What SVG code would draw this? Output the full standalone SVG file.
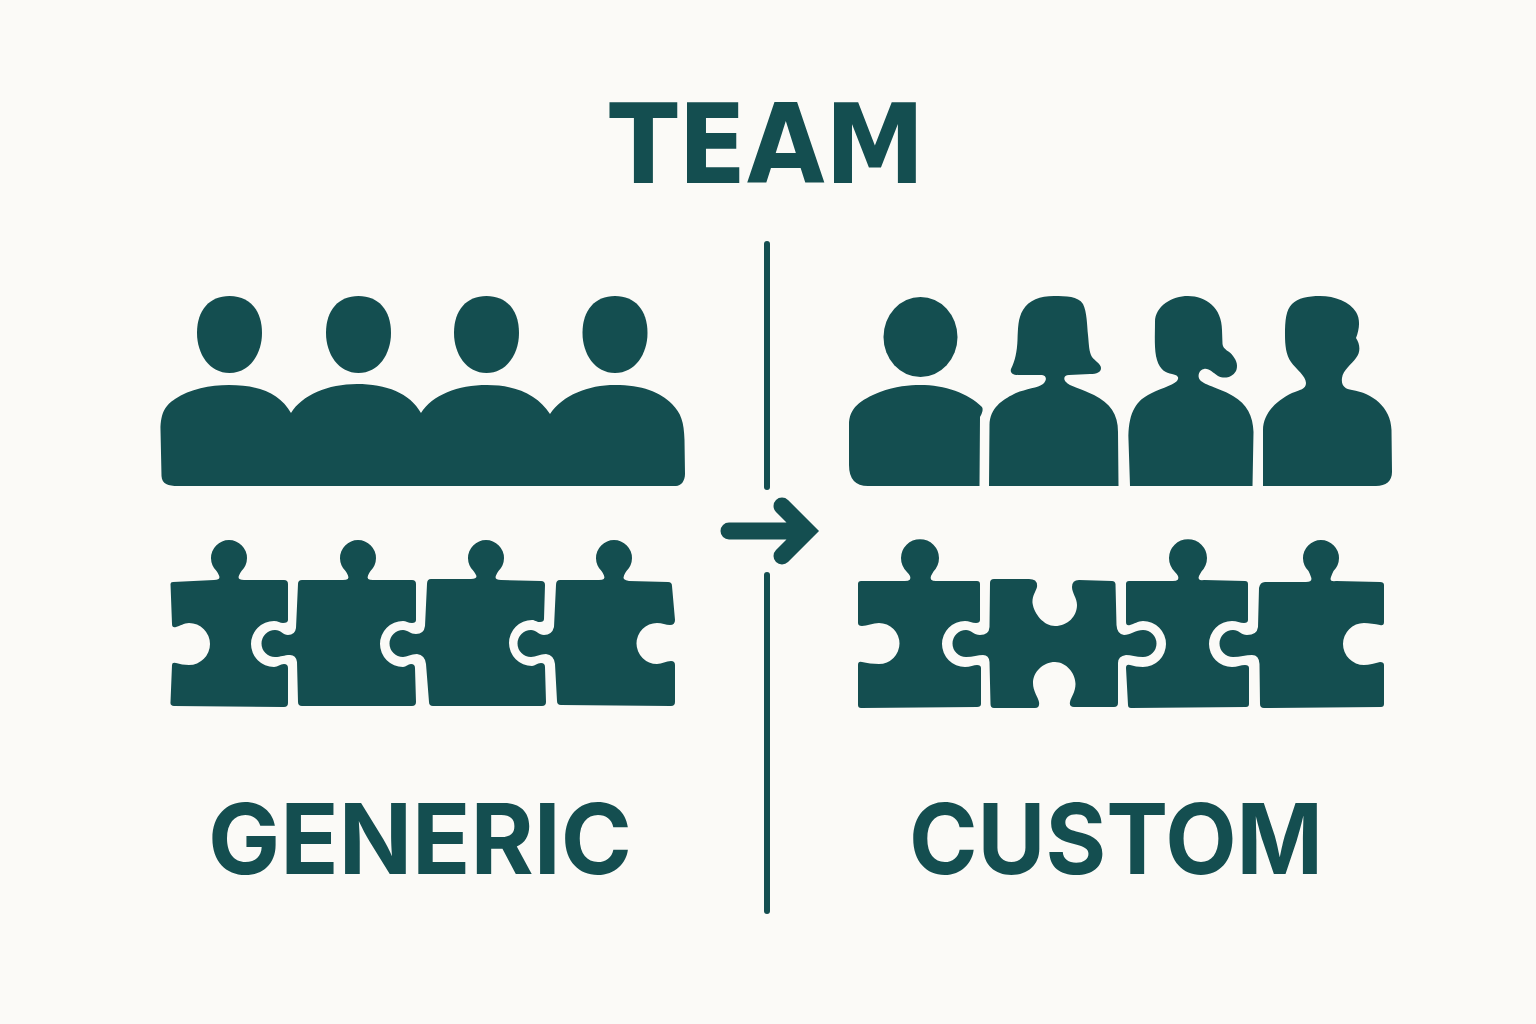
<svg xmlns="http://www.w3.org/2000/svg" width="1536" height="1024" viewBox="0 0 1536 1024">
<style>
.f{fill:#144e50}
.t{fill:#144e50;font-family:"Inter","Liberation Sans",sans-serif;font-weight:700;font-size:98px}
.h{fill:#144e50;font-family:"DejaVu Sans",sans-serif;font-weight:700;font-size:110px}
.c{fill:none;stroke:#144e50;stroke-width:6;stroke-linecap:round}
</style>
<defs>
<path id="gh" d="M0 -39C20 -39 32.500 -25 32.500 -2C32.500 19 20 38 0 38C-20 38 -32.500 19 -32.500 -2C-32.500 -25 -20 -39 0 -39Z"/>
</defs>
<rect width="1536" height="1024" fill="#fbfaf7"/>
<g id="connectors">
<path class="c" d="M767 244V487"/>
<path class="c" d="M767 575V911"/>
<path d="M729 531H800M782 506L807 531L782 556" fill="none" stroke="#144e50" stroke-width="17" stroke-linecap="round" stroke-linejoin="miter"/>
</g>
<g id="title-team"><text class="h" x="767" y="183" text-anchor="middle" textLength="316" lengthAdjust="spacingAndGlyphs">TEAM</text></g>
<g id="generic-people" class="f">
<use href="#gh" x="229.500" y="335"/>
<use href="#gh" x="358.500" y="335"/>
<use href="#gh" x="486.500" y="335"/>
<use href="#gh" x="615" y="335"/>
<path d="M160.500 430C160.500 412 166 405 175 399C190 389 210 385 229 385C258 385 280 393 291 413C302 395 328 384 357 384C386 384 410 393 421 413C432 395 458 385 487 385C516 385 538 395 550 414C563 395 588 385 615 385C642 385 660 392 672 404C681 413 684 422 684.500 440L685 474C685 481 681 486 676 486L178 486C168 486 162 484 161.500 476Z"/>
</g>
<g id="custom-person-1" class="f">
<ellipse cx="920.500" cy="337" rx="37" ry="40"/>
<path d="M849 425C849 408 860 400 880 392C895 386 910 385 920 385C945 385 968 393 982 407Q984 410 980 417L979.500 486L868 486Q849 486 849 465Z"/>
</g>
<g id="custom-person-2" class="f">
<path d="M1054 296C1066 296 1078 296 1083 304C1087 312 1087 325 1088 335C1089 345 1089 352 1092 357C1095 361 1101 364 1101 368C1101 372 1097 374 1090 374L1069 375C1064 375 1063 379 1066 382C1069 386 1082 389 1094 395C1110 403 1118 414 1118 432L1118.500 486L989 486L989.500 425C990 408 1002 400 1014 394C1024 389 1038 388 1043 384C1047 380 1047 376 1042 375L1018 375C1012 375 1010 372 1011 369C1015 361 1017 352 1017.500 340C1018 328 1018 318 1023 310C1029 300 1040 296 1054 296Z"/>
</g>
<g id="custom-person-3" class="f">
<path d="M1188 296C1206 296 1222 308 1222 330L1222.500 344C1223 350 1230 351 1233 356C1237 361 1238 366 1236 371C1232 378 1224 379 1218 376C1213 373 1209 368 1204 369C1199 370 1197 376 1200 380C1204 385 1222 389 1233 396C1247 404 1253 416 1253.500 432L1252.500 486L1130 486L1128.500 440C1128 415 1135 402 1148 395C1158 389 1172 386 1177 381C1180 377 1177 375 1172 374C1166 373 1160 370 1157 360C1154 350 1155 335 1155 322C1155 306 1172 296 1188 296Z"/>
</g>
<g id="custom-person-4" class="f">
<path d="M1320 296C1335 296 1350 302 1356 312C1361 320 1359 330 1356 338C1360 344 1361 352 1356 358C1352 364 1343 370 1342 378C1341 386 1345 389 1352 390C1372 393 1391 407 1391.500 430L1392 472C1392 481 1386 486 1376 486L1263 486L1263 430C1263 412 1278 400 1292 393C1300 390 1306 389 1306 383C1306 376 1296 369 1291 362C1286 355 1285 345 1285 335C1285 320 1286 310 1292 304C1298 298 1308 296 1320 296Z"/>
</g>
<g id="generic-puzzle-1" class="f"><path d="M170.500 584Q170.500 582 173 582L214 580Q221 580 219 575.500Q218 573 216.500 571A18 18 0 1 1 241.500 571Q240 573 239 575.500Q237 580 244 580L284 580Q288 580 288 584L288 620Q288 623 283 623C280 623 278 621 274 621A23 23 0 0 0 274 667C278 667 280 664 284 664Q288 664 288 668L288 703Q288 707 284 707L174 706Q170 706 170.500 702L172 665Q172 662 176 663C180 664 184 665 189 665A21 21 0 0 0 189 623C184 623 180 626 176 627Q172 628 172 624Z"/></g>
<g id="generic-puzzle-2" class="f"><path d="M298 584Q298 580 302 580L343 580Q350 580 348 575.500Q347 573 345.500 571A18 18 0 1 1 370.500 571Q369 573 368 575.500Q366 580 373 580L412 580Q416 580 416 584L416 620Q416 623 412 623C408 623 406 621 403 621A23 23 0 0 0 403 667C406 667 408 664 411 664Q415 664 415 668L416 702Q416 706 412 706L302 706Q298 706 298 702L297 662Q296 655 290 655C284 655 281 657 275 657A13.500 13.500 0 0 1 275 630C281 630 283 635 288 635Q295 635 296 628Z"/></g>
<g id="generic-puzzle-3" class="f"><path d="M427 584Q427 579 431 579L471 579Q478 579 476 575Q475 573 473.500 571A18 18 0 1 1 498.500 571Q497 573 496 575.500Q494 580 501 580L541 581Q545 581 545 585L544 619Q544 622 540 622C536 622 535 620 532 620A23 23 0 0 0 532 666C535 666 537 663 541 663Q545 663 545 667L546 702Q546 706 542 706L433 706Q429 706 429 702L426 664Q425 655 417 654C411 654 407 657 403 657A13.500 13.500 0 0 1 403 630C408 630 410 634 416 634Q424 634 425 626Z"/></g>
<g id="generic-puzzle-4" class="f"><path d="M556 585Q556 580 560 580L599 580Q606 580 604 575.500Q603 573 601.500 571A18 18 0 1 1 626.500 571Q625 573 624 575.500Q622 580 629 581L668 582Q672 582 672 586L675 620Q675 625 670 625C666 625 662 623 657 623A20.500 20.500 0 0 0 657 664C662 664 666 661 671 661Q675 661 675 665L675 702Q675 706 671 706L561 705Q557 705 557 701L555 664Q554 655 546 654C540 654 536 657 531 657A13.500 13.500 0 0 1 531 630C536 630 539 635 544 635Q552 635 554 627Z"/></g>
<g id="custom-puzzle-1" class="f"><path d="M858 584Q858 581 861 581L905 581Q912 581 910 576Q909 574 906.500 571.500A19 19 0 1 1 933.500 571.500Q932 574 931 576Q929 581 936 581L977 581Q980 581 980 584L980 620Q980 623 976 623C972 623 969 621 965 621A23 23 0 0 0 965 667C970 667 974 665 977 665Q981 665 981 668L981 704Q981 707 977 707L861 708Q858 708 858 705L858 665Q858 661 862 662C867 663 873 664 879 664A20.500 20.500 0 0 0 879 623C873 623 867 626 862 626Q858 626 858 623Z"/></g>
<g id="custom-puzzle-2" class="f"><path d="M990 583Q990 579 994 579L1029 579Q1038 579 1037 587C1036 591 1032 596 1032.500 603C1034 614 1044 626 1055 626C1068 626 1077 616 1077 605C1077 598 1072 593 1072 587Q1072 580 1079 580L1112 581Q1115 581 1115.500 584L1116.500 625Q1117 634 1124 635C1130 635 1136 630 1143 630A13.500 13.500 0 0 1 1143 657C1136 657 1131 655 1126 655Q1118 656 1118 663L1118 703Q1118 707 1114 707L1074 707Q1069 707 1070 702C1071 697 1075.500 692 1075.500 684C1075.500 673 1066 662 1055 662C1043 662 1033 672 1033 683C1033 691 1038 697 1039 702Q1040 708 1035 708L994 708Q990.500 708 990.500 704L989.500 662Q989 655 983 655C978 655 973 657 966 657A13.500 13.500 0 0 1 966 630C971 630 974 635 980 635Q989 635 989.500 627Z"/></g>
<g id="custom-puzzle-3" class="f"><path d="M1126 584Q1126 581 1129 581L1173 581Q1180 581 1178 576Q1177 574 1174.500 571.500A19 19 0 1 1 1201.500 571.500Q1200 574 1199 576Q1197 581 1204 580L1245 581Q1248 581 1248 584L1248 620Q1248 623 1244 623C1240 623 1237 621 1232 621A23 23 0 0 0 1232 667C1237 667 1241 665 1245 665Q1249 665 1249 668L1249 704Q1249 707 1246 707L1131 708Q1128 708 1128 705L1126 668Q1126 664 1130 665C1134 666 1138 667 1143 667A23 23 0 0 0 1143 621C1138 621 1134 624 1130 625Q1126 626 1126 622Z"/></g>
<g id="custom-puzzle-4" class="f"><path d="M1259 588Q1260 582 1265 582L1306 582Q1313 582 1311 577Q1310 574 1308.500 571A18 18 0 1 1 1333.500 571Q1332 574 1331 577Q1329 582 1336 581L1380 582Q1384 582 1384 585L1384 622Q1384 626 1380 625C1375 624 1369 623 1364 623A21 21 0 0 0 1364 665C1369 665 1375 663 1380 662Q1384 662 1384 665L1384 704Q1384 707 1381 707L1264 708Q1260 708 1260 704L1259.500 664Q1259 655 1252 655C1246 655 1240 657 1233 657A13.500 13.500 0 0 1 1233 630C1239 630 1241 635 1247 635Q1257 635 1258 627Z"/></g>
<g id="label-generic"><text class="t" x="420" y="874" text-anchor="middle" textLength="424" lengthAdjust="spacingAndGlyphs">GENERIC</text></g>
<g id="label-custom"><text class="t" x="1116" y="874" text-anchor="middle" textLength="414" lengthAdjust="spacingAndGlyphs">CUSTOM</text></g>
</svg>
